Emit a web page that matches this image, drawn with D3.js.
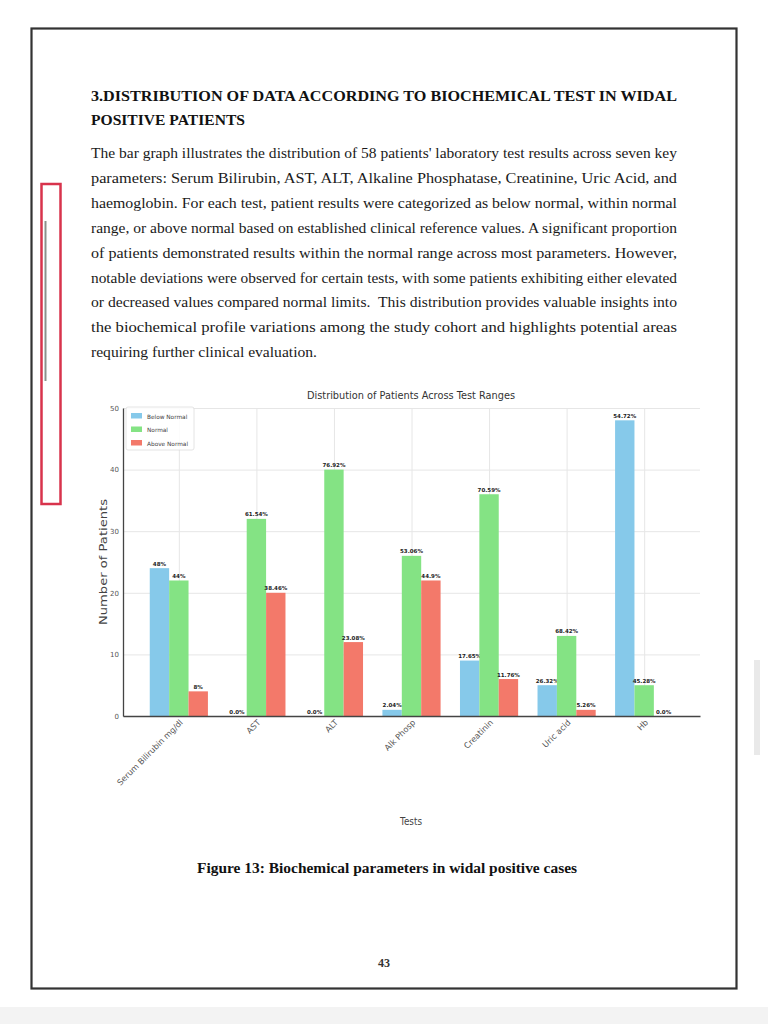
<!DOCTYPE html>
<html>
<head>
<meta charset="utf-8">
<script src="https://cdn.jsdelivr.net/npm/d3@7"></script>
<style>
  html, body { margin: 0; padding: 0; background: #ffffff; }
  svg { display: block; }
</style>
</head>
<body>
<svg id="page" width="768" height="1024"></svg>
<script>
// ---------- data ----------
const tests = ["Serum Bilirubin mg/dl", "AST", "ALT", "Alk Phosp", "Creatinin", "Uric acid", "Hb"];
const seriesNames = ["Below Normal", "Normal", "Above Normal"];
const belowNormal = [24, 0, 0, 1, 9, 5, 48];
const normal = [22, 32, 40, 26, 36, 13, 5];
const aboveNormal = [4, 20, 12, 22, 6, 1, 0];
const belowPct = ["48%", "0.0%", "0.0%", "2.04%", "17.65%", "26.32%", "54.72%"];
const normalPct = ["44%", "61.54%", "76.92%", "53.06%", "70.59%", "68.42%", "45.28%"];
const abovePct = ["8%", "38.46%", "23.08%", "44.9%", "11.76%", "5.26%", "0.0%"];
const yTicks = [0, 10, 20, 30, 40, 50];

const headingLines = [
  "3.DISTRIBUTION OF DATA ACCORDING TO BIOCHEMICAL TEST IN WIDAL",
  "POSITIVE PATIENTS"
];
const bodyLines = [
  "The bar graph illustrates the distribution of 58 patients' laboratory test results across seven key",
  "parameters: Serum Bilirubin, AST, ALT, Alkaline Phosphatase, Creatinine, Uric Acid, and",
  "haemoglobin. For each test, patient results were categorized as below normal, within normal",
  "range, or above normal based on established clinical reference values. A significant proportion",
  "of patients demonstrated results within the normal range across most parameters. However,",
  "notable deviations were observed for certain tests, with some patients exhibiting either elevated",
  "or decreased values compared normal limits.  This distribution provides valuable insights into",
  "the biochemical profile variations among the study cohort and highlights potential areas",
  "requiring further clinical evaluation."
];
const caption = "Figure 13: Biochemical parameters in widal positive cases";
const pageNumber = "43";

const colors = ["#86c9ea", "#84e384", "#f3796a"];

// ---------- page ----------
const svg = d3.select("#page");
svg.append("rect").attr("x", 0).attr("y", 0).attr("width", 768).attr("height", 1024).attr("fill", "#ffffff");
svg.append("rect").attr("x", 0).attr("y", 1007).attr("width", 768).attr("height", 17).attr("fill", "#f3f3f3");
svg.append("rect").attr("x", 31.5).attr("y", 28.5).attr("width", 705).attr("height", 960)
  .attr("fill", "none").attr("stroke", "#333").attr("stroke-width", 2.2);

// side annotations
svg.append("rect").attr("x", 41.5).attr("y", 184).attr("width", 19).attr("height", 320)
  .attr("fill", "none").attr("stroke", "#d8334c").attr("stroke-width", 2.5);
svg.append("line").attr("x1", 45.5).attr("x2", 45.5).attr("y1", 221).attr("y2", 381)
  .attr("stroke", "#8a928c").attr("stroke-width", 2);
svg.append("rect").attr("x", 754).attr("y", 660).attr("width", 6).attr("height", 95).attr("fill", "#e9e9e9");

// heading
const serif = "'Liberation Serif', 'Times New Roman', serif";
svg.append("text").attr("x", 91).attr("y", 101).attr("font-family", serif).attr("font-weight", "bold")
  .attr("font-size", 14.5).attr("fill", "#111").attr("textLength", 586).attr("lengthAdjust", "spacingAndGlyphs")
  .text(headingLines[0]);
svg.append("text").attr("x", 91).attr("y", 125).attr("font-family", serif).attr("font-weight", "bold")
  .attr("font-size", 14.5).attr("fill", "#111").attr("textLength", 154).attr("lengthAdjust", "spacingAndGlyphs")
  .text(headingLines[1]);

// body
bodyLines.forEach((line, i) => {
  const last = i === bodyLines.length - 1;
  svg.append("text").attr("x", 91).attr("y", 158 + i * 24.9)
    .attr("font-family", serif).attr("font-size", 14.5).attr("fill", "#1a1a1a")
    .style("white-space", "pre")
    .attr("textLength", last ? 226 : 586).attr("lengthAdjust", "spacingAndGlyphs")
    .text(line);
});

// caption & page number
svg.append("text").attr("x", 387).attr("y", 873).attr("text-anchor", "middle")
  .attr("font-family", serif).attr("font-weight", "bold").attr("font-size", 14.5).attr("fill", "#111")
  .attr("textLength", 380).attr("lengthAdjust", "spacingAndGlyphs").text(caption);
svg.append("text").attr("x", 384).attr("y", 967).attr("text-anchor", "middle")
  .attr("font-family", serif).attr("font-weight", "bold").attr("font-size", 12).attr("fill", "#333")
  .text(pageNumber);

// ---------- chart ----------
const sans = "'DejaVu Sans', sans-serif";
const x = d3.scaleLinear().domain([-0.72, 6.72]).range([123, 700]);
const y = d3.scaleLinear().domain([0, 50]).range([716, 408]);
const bw = x(0.25) - x(0);

const chart = svg.append("g");

// title
chart.append("text").attr("x", 411).attr("y", 399).attr("text-anchor", "middle")
  .attr("font-family", sans).attr("font-size", 11).attr("fill", "#333")
  .attr("textLength", 208).attr("lengthAdjust", "spacingAndGlyphs")
  .text("Distribution of Patients Across Test Ranges");

// grid
const gridY = chart.append("g").attr("transform", "translate(123,0)")
  .call(d3.axisLeft(y).tickValues(yTicks).tickSize(-(700 - 123)).tickFormat(""));
gridY.select(".domain").remove();
gridY.selectAll("line").attr("stroke", "#e6e6e6").attr("stroke-width", 1);
const gridX = chart.append("g").attr("transform", "translate(0,408)")
  .call(d3.axisBottom(x).tickValues(d3.range(tests.length)).tickSize(716 - 408).tickFormat(""));
gridX.select(".domain").remove();
gridX.selectAll("line").attr("stroke", "#e6e6e6").attr("stroke-width", 1);

// bars
const series = [belowNormal, normal, aboveNormal];
const pcts = [belowPct, normalPct, abovePct];
series.forEach((vals, s) => {
  const off = (s - 1) * 0.25;
  chart.append("g").selectAll("rect").data(vals).join("rect")
    .attr("x", (d, i) => x(i + off) - bw / 2)
    .attr("y", d => y(d))
    .attr("width", bw)
    .attr("height", d => y(0) - y(d))
    .attr("fill", colors[s]);
  chart.append("g").selectAll("text").data(vals).join("text")
    .attr("x", (d, i) => x(i + off))
    .attr("y", d => y(d) - 2.5)
    .attr("text-anchor", "middle")
    .attr("font-family", sans).attr("font-weight", "bold").attr("font-size", 5.5)
    .attr("fill", "#222")
    .text((d, i) => pcts[s][i]);
});

// y axis
const yAxis = chart.append("g").attr("transform", "translate(123,0)")
  .call(d3.axisLeft(y).tickValues(yTicks).tickSize(0).tickPadding(4).tickSizeOuter(0));
yAxis.select(".domain").attr("stroke", "#444").attr("stroke-width", 1.3);
yAxis.selectAll("text").attr("font-family", sans).attr("font-size", 7).attr("fill", "#555");

// x axis
const xAxis = chart.append("g").attr("transform", "translate(0,716)")
  .call(d3.axisBottom(x).tickValues(d3.range(tests.length)).tickFormat(i => tests[i]).tickSize(0).tickSizeOuter(0));
xAxis.select(".domain").attr("stroke", "#444").attr("stroke-width", 1.3);
xAxis.selectAll("text")
  .attr("font-family", sans).attr("font-size", 8.2).attr("fill", "#555")
  .attr("text-anchor", "end")
  .attr("transform", "translate(2,5) rotate(-45)")
  .attr("dy", "0.35em").attr("y", 0).attr("x", 0);

// axis titles
chart.append("text").attr("x", 411).attr("y", 825).attr("text-anchor", "middle")
  .attr("font-family", sans).attr("font-size", 10).attr("fill", "#444")
  .attr("textLength", 22).attr("lengthAdjust", "spacingAndGlyphs").text("Tests");
chart.append("text").attr("transform", "translate(107,562) rotate(-90)").attr("text-anchor", "middle")
  .attr("font-family", sans).attr("font-size", 10).attr("fill", "#444")
  .attr("textLength", 126).attr("lengthAdjust", "spacingAndGlyphs").text("Number of Patients");

// legend
const lg = chart.append("g").attr("transform", "translate(126,407)");
lg.append("rect").attr("x", 0).attr("y", 0).attr("width", 68).attr("height", 43)
  .attr("fill", "#ffffff").attr("fill-opacity", 0.85).attr("stroke", "#dddddd").attr("stroke-width", 0.8).attr("rx", 2);
seriesNames.forEach((n, i) => {
  lg.append("rect").attr("x", 5).attr("y", 6 + i * 13.5).attr("width", 11).attr("height", 5.5).attr("fill", colors[i]);
  lg.append("text").attr("x", 21).attr("y", 11.5 + i * 13.5).attr("font-family", sans)
    .attr("font-size", 5.8).attr("fill", "#444").text(n);
});
</script>
</body>
</html>
